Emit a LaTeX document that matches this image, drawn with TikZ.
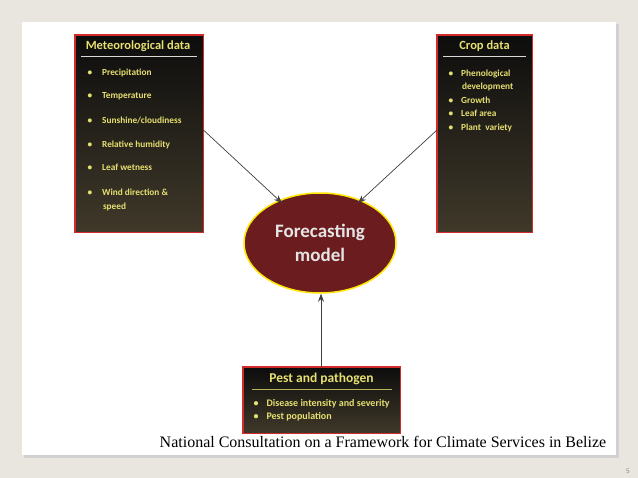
\documentclass[tikz,border=0pt]{standalone}
\usepackage{fontspec}
\setmainfont{Liberation Serif}
\newfontfamily\calfont{Carlito}
\usetikzlibrary{arrows.meta,shapes.geometric}
\definecolor{bg}{HTML}{E9E5DF}
\definecolor{ylw}{HTML}{E6E070}
\definecolor{bord}{HTML}{D42A2A}
\definecolor{maroon}{HTML}{6B1C1E}
\definecolor{olv}{HTML}{40392A}
\tikzset{
 panel/.style={top color=black!95,bottom color=olv,anchor=north west,inner sep=0pt},
 rim/.style={draw=bord,line width=1.3pt},
 ttl/.style={font=\calfont\bfseries\fontsize{12.5}{14}\selectfont,text=ylw,anchor=north},
 itm/.style={font=\calfont\bfseries\fontsize{9.3}{14}\selectfont,text=ylw,anchor=north west,align=left},
 conn/.style={-{Stealth[length=8pt,width=6pt]},draw=black!75,line width=0.7pt}
}
\begin{document}
\begin{tikzpicture}[x=1pt,y=-1pt]
\useasboundingbox (0,0) rectangle (638,478);
\fill[bg] (0,0) rectangle (638,478);
\fill[black!18] (24,24) rectangle (619,458);
\fill[white] (22,22) rectangle (616,455);
% meteorological
\node[panel,minimum width=128pt,minimum height=197pt] (met) at (75,35) {};
\draw[rim] (met.north west) rectangle (met.south east);
\node[ttl] (mt) at (138,37) {Meteorological data};
\draw[white!85!black,line width=0.8pt] (81,56) -- (197,56);
\node[itm] (m1) at (84,65) {\textbullet\hspace{10pt}Precipitation};
\node[itm] (m2) at (84,89) {\textbullet\hspace{10pt}Temperature};
\node[itm] (m3) at (84,113) {\textbullet\hspace{10pt}Sunshine/cloudiness};
\node[itm] (m4) at (84,137) {\textbullet\hspace{10pt}Relative humidity};
\node[itm] (m5) at (84,161) {\textbullet\hspace{10pt}Leaf wetness};
\node[itm] (m6) at (84,185) {\textbullet\hspace{10pt}Wind direction \&\\\hspace{15.5pt}speed};
% crop
\node[panel,minimum width=95pt,minimum height=197pt] (crop) at (437,35) {};
\draw[rim] (crop.north west) rectangle (crop.south east);
\node[ttl] (ct) at (484.5,37) {Crop data};
\draw[white!85!black,line width=0.8pt] (443,56) -- (526,56);
\node[itm,font=\calfont\bfseries\fontsize{9.3}{13.5}\selectfont] (c1) at (445,66) {\textbullet\hspace{8pt}Phenological\\\hspace{13.5pt}development\\\textbullet\hspace{8pt}Growth\\\textbullet\hspace{8pt}Leaf area\\\textbullet\hspace{8pt}Plant\ \ variety};
% ellipse
\node[ellipse,draw=yellow!90!orange,line width=1.5pt,fill=maroon,minimum width=152pt,minimum height=100pt,font=\calfont\bfseries\fontsize{19}{24}\selectfont,text=white!90!black,align=center] (fm) at (320,243) {Forecasting\\model};
% pest
\node[panel,minimum width=157pt,minimum height=66pt] (pest) at (243,367) {};
\draw[rim] (pest.north west) rectangle (pest.south east);
\node[ttl,font=\calfont\bfseries\fontsize{13.5}{15}\selectfont] (pt) at (321.5,369) {Pest and pathogen};
\draw[ylw!80!black,line width=0.8pt] (252,389) -- (392,389);
\node[itm,font=\calfont\bfseries\fontsize{10}{13}\selectfont] (p1) at (250,396) {\textbullet\hspace{8pt}Disease intensity and severity\\\textbullet\hspace{8pt}Pest population};
% arrows
\draw[conn] (met.east |- 0,130) -- (282,203);
\draw[conn] (crop.west |- 0,130) -- (358,203);
\draw[conn] (pest.north -| 321,0) -- (fm.south -| 321,0);
\node[font=\fontsize{16}{18}\selectfont,anchor=base] (ft) at (383,448) {National Consultation on a Framework for Climate Services in Belize};
\node[font=\sffamily\fontsize{7}{8}\selectfont,text=black!45] (pg) at (628,471) {5};
\end{tikzpicture}
\end{document}
